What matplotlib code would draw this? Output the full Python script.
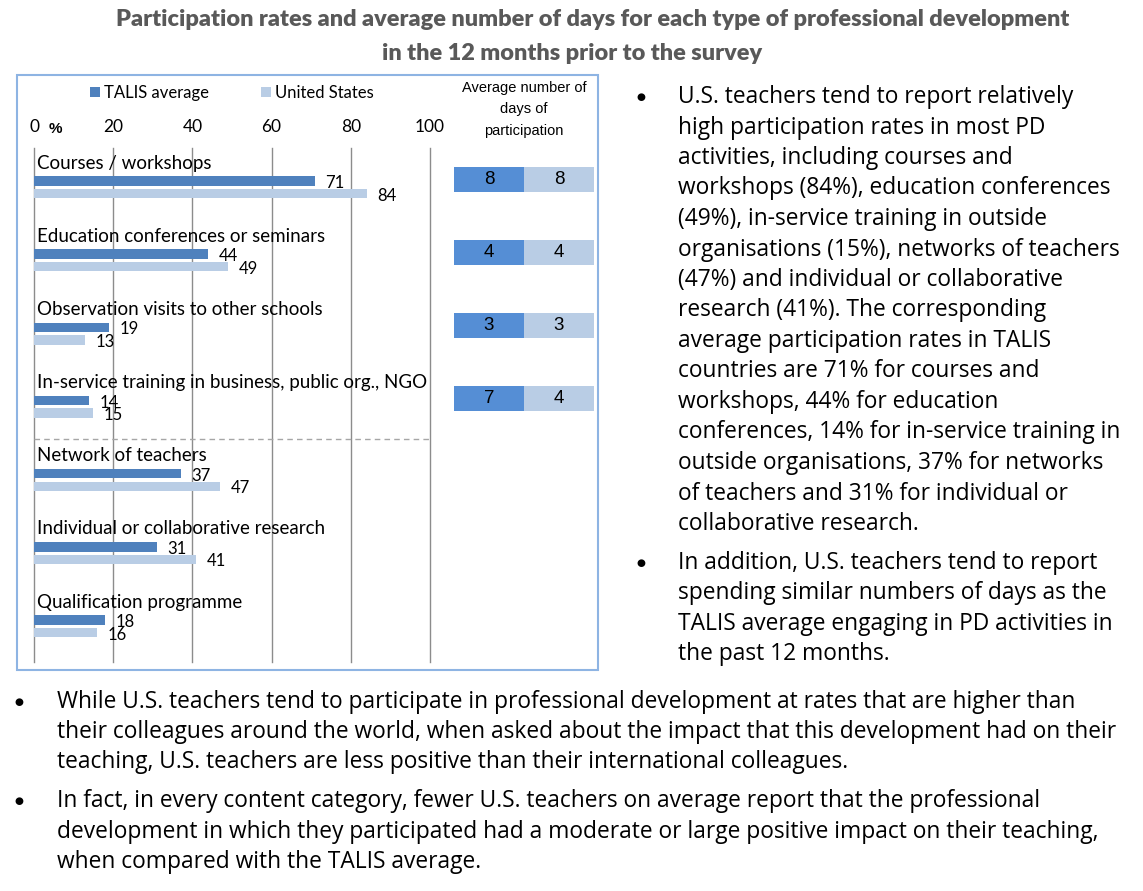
import matplotlib
matplotlib.use("Agg")
import matplotlib.pyplot as plt
import numpy as np
from matplotlib.patches import Rectangle

W, H = 1143, 891
DARK = "#4f81bd"; LIGHT = "#b9cde5"; CELL = "#558ed5"
GRID = "#8c8c8c"; TITLE = "#595959"; BOX = "#8eb4e3"

categories = ["Courses / workshops", "Education conferences or seminars",
              "Observation visits to other schools",
              "In-service training in business, public org., NGO",
              "Network of teachers", "Individual or collaborative research",
              "Qualification programme"]
talis = [71, 44, 19, 14, 37, 31, 18]
us = [84, 49, 13, 15, 47, 41, 16]
days_talis = [8, 4, 3, 7]
days_us = [8, 4, 3, 4]
xticks = [0, 20, 40, 60, 80, 100]

right_lines = ["U.S. teachers tend to report relatively",
               "high participation rates in most PD",
               "activities, including courses and",
               "workshops (84%), education conferences",
               "(49%), in-service training in outside",
               "organisations (15%), networks of teachers",
               "(47%) and individual or collaborative",
               "research (41%). The corresponding",
               "average participation rates in TALIS",
               "countries are 71% for courses and",
               "workshops, 44% for education",
               "conferences, 14% for in-service training in",
               "outside organisations, 37% for networks",
               "of teachers and 31% for individual or",
               "collaborative research."]
right_lines2 = ["In addition, U.S. teachers tend to report",
                "spending similar numbers of days as the",
                "TALIS average engaging in PD activities in",
                "the past 12 months."]
bottom1 = ["While U.S. teachers tend to participate in professional development at rates that are higher than",
           "their colleagues around the world, when asked about the impact that this development had on their",
           "teaching, U.S. teachers are less positive than their international colleagues."]
bottom2 = ["In fact, in every content category, fewer U.S. teachers on average report that the professional",
           "development in which they participated had a moderate or large positive impact on their teaching,",
           "when compared with the TALIS average."]

BODY = ["Open Sans", "DejaVu Sans"]
LBL = ["Lato", "DejaVu Sans"]
ARL = ["Liberation Sans", "DejaVu Sans"]
TTL = ["Lato", "DejaVu Sans"]

fig = plt.figure(figsize=(W / 100, H / 100), dpi=100)
rend = fig.canvas.get_renderer()

def px(x, y):
    return x / W, 1 - y / H

def fit(t, width):
    w = t.get_window_extent(rend).width
    t.set_fontsize(t.get_fontsize() * width / w)
    return t.get_fontsize()

# ---- title ----
t = fig.text(*px(593, 20), "Participation rates and average number of days for each type of professional development",
             ha="center", va="center", fontsize=16, fontweight="heavy", color=TITLE, family=TTL)
tfs = fit(t, 950)
fig.text(*px(572, 53), "in the 12 months prior to the survey", ha="center", va="center",
         fontsize=tfs, fontweight="heavy", color=TITLE, family=TTL)

# ---- chart frame ----
fig.add_artist(Rectangle(px(17, 670), (598 - 17) / W, (670 - 75) / H, transform=fig.transFigure,
                         fill=False, edgecolor=BOX, lw=1.5))

# ---- bars ----
y0, y1 = 148, 662
step = 73.17
gc = 187.25
ylim = ((y1 - gc) / step, (y0 - gc) / step)
ax = fig.add_axes([34 / W, 1 - y1 / H, (430 - 34) / W, (y1 - y0) / H])
pos = np.arange(len(categories))
off, bh = 0.0855, 0.128
b1 = ax.barh(pos - off, talis, height=bh, color=DARK, label="TALIS average", zorder=3)
b2 = ax.barh(pos + off, us, height=bh, color=LIGHT, label="United States", zorder=3)
ax.set_xlim(0, 100)
ax.set_ylim(*ylim)
ax.set_yticks([])
ax.set_xticks(xticks)
ax.xaxis.tick_top()
ax.tick_params(axis="x", length=0, pad=9, labelsize=12.5)
for lab in ax.get_xticklabels():
    lab.set_family(LBL)
ax.grid(axis="x", color=GRID, lw=1)
for gl in ax.get_xgridlines():
    gl.set_clip_on(False)
for s in ax.spines.values():
    s.set_visible(False)
ax.axhline(3.44, color="#a6a6a6", lw=1, ls=(0, (4, 3)), zorder=2)
fig.text(*px(55, 129), "%", ha="center", va="center", fontsize=11, fontweight="bold", family=ARL)

for bars in (b1, b2):
    for lab in ax.bar_label(bars, padding=7.5, fontsize=12, family=LBL):
        lab.xyann = (7.5, -1.5)

cats = []
for i, c in enumerate(categories):
    cats.append(ax.text(0.75, i - 0.33, c, ha="left", va="center", fontsize=12, family=LBL, zorder=4))
cfs = fit(cats[3], 388)
for tx in cats:
    tx.set_fontsize(cfs)

fig.legend(handles=[b1, b2], loc="center left", bbox_to_anchor=px(90, 93), ncol=2,
           frameon=False, prop={"family": LBL, "size": 12}, handlelength=0.6,
           handleheight=0.6, handletextpad=0.25, columnspacing=3.1, borderpad=0, borderaxespad=0)

# ---- days table ----
dx = fig.add_axes([454 / W, 1 - y1 / H, 140 / W, (y1 - y0) / H])
dpos = pos[:len(days_talis)] - 0.11
dx.barh(dpos, 1, left=0, height=0.34, color=CELL)
dx.barh(dpos, 1, left=1, height=0.34, color=LIGHT)
for p, a, b in zip(dpos, days_talis, days_us):
    dx.text(0.5, p, str(a), ha="center", va="center", fontsize=13.5, family=ARL)
    dx.text(1.5, p, str(b), ha="center", va="center", fontsize=13.5, family=ARL)
dx.set_xlim(0, 2)
dx.set_ylim(*ylim)
dx.axis("off")
for k, s in enumerate(["Average number of", "days of", "participation"]):
    fig.text(*px(524, 88 + 21.5 * k), s, ha="center", va="center", fontsize=10.5, family=ARL)

# ---- right text ----
ref = fig.text(*px(678, 431), right_lines[11], ha="left", va="center", fontsize=15, family=BODY)
bfs = fit(ref, 444)
ref.remove()
for k, s in enumerate(right_lines):
    fig.text(*px(678, 97 + 30.5 * k), s, ha="left", va="center", fontsize=bfs, family=BODY)
for k, s in enumerate(right_lines2):
    fig.text(*px(678, 563 + 30.4 * k), s, ha="left", va="center", fontsize=bfs, family=BODY)
for yb in (97, 563):
    fig.text(*px(641, yb), "\u25CF", ha="center", va="center", fontsize=bfs * 0.45, family=["DejaVu Sans"])

# ---- bottom text ----
for k, s in enumerate(bottom1):
    fig.text(*px(57, 702 + 30 * k), s, ha="left", va="center", fontsize=bfs, family=BODY)
for k, s in enumerate(bottom2):
    fig.text(*px(57, 801 + 30.5 * k), s, ha="left", va="center", fontsize=bfs, family=BODY)
for yb in (702, 801):
    fig.text(*px(19, yb), "\u25CF", ha="center", va="center", fontsize=bfs * 0.45, family=["DejaVu Sans"])

fig.savefig("out.png", dpi=100, facecolor="white")
